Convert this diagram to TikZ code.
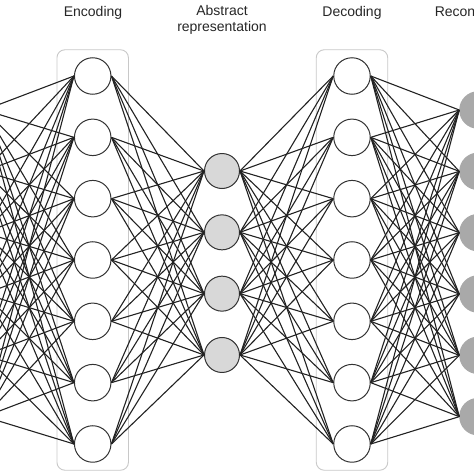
\documentclass[tikz,border=0pt]{standalone}
\usepackage{fontspec}
\setmainfont{Liberation Sans}
\usetikzlibrary{positioning, fit, backgrounds}

\definecolor{wirecol}{HTML}{222222}
\definecolor{rimcol}{HTML}{333333}
\definecolor{codegrey}{HTML}{D8D8D8}
\definecolor{outgrey}{HTML}{A9A9A9}
\definecolor{boxgrey}{HTML}{C8C8C8}
\definecolor{textcol}{HTML}{262626}

\begin{document}
\begin{tikzpicture}[x=1pt,y=-1pt,node distance=61.33pt,semithick]
\tikzstyle{neuron}=[circle,draw=rimcol,line width=1pt,inner sep=0pt,minimum size=36.5pt,fill=white]
\tikzstyle{codenode}=[neuron,fill=codegrey,minimum size=35pt]
\tikzstyle{outnode}=[neuron,fill=outgrey,draw=outgrey]
\tikzstyle{layerbox}=[draw=boxgrey,rounded corners=8pt,line width=0.9pt,inner xsep=17pt,inner ysep=7.5pt]
\tikzstyle{wire}=[draw=wirecol,line width=1.1pt]
\tikzstyle{title}=[inner sep=0pt,text=textcol]
\tikzset{font=\fontsize{14pt}{16pt}\selectfont}

\useasboundingbox (0,0) rectangle (474,474);

        % input side (outside the picture)
        \coordinate                     (in1) at (-15.5,110);
        \coordinate [below of=in1]      (in2);
        \coordinate [below of=in2]      (in3);
        \coordinate [below of=in3]      (in4);
        \coordinate [below of=in4]      (in5);
        \coordinate [below of=in5]      (in6);

        % encoding
        \node[neuron]                   (e1) at (92.7,76) {};
        \node[neuron]                   (e2) [below of=e1] {};
        \node[neuron]                   (e3) [below of=e2] {};
        \node[neuron]                   (e4) [below of=e3] {};
        \node[neuron]                   (e5) [below of=e4] {};
        \node[neuron]                   (e6) [below of=e5] {};
        \node[neuron]                   (e7) [below of=e6] {};

        % abstract representation
        \node[codenode]                 (c1) at (222,171) {};
        \node[codenode]                 (c2) [below of=c1] {};
        \node[codenode]                 (c3) [below of=c2] {};
        \node[codenode]                 (c4) [below of=c3] {};

        % decoding
        \node[neuron]                   (d1) at (352,76) {};
        \node[neuron]                   (d2) [below of=d1] {};
        \node[neuron]                   (d3) [below of=d2] {};
        \node[neuron]                   (d4) [below of=d3] {};
        \node[neuron]                   (d5) [below of=d4] {};
        \node[neuron]                   (d6) [below of=d5] {};
        \node[neuron]                   (d7) [below of=d6] {};

        % reconstruction
        \node[outnode]                  (r1) at (478,110) {};
        \node[outnode]                  (r2) [below of=r1] {};
        \node[outnode]                  (r3) [below of=r2] {};
        \node[outnode]                  (r4) [below of=r3] {};
        \node[outnode]                  (r5) [below of=r4] {};
        \node[outnode]                  (r6) [below of=r5] {};

        % titles
        \node[title,anchor=base]               (tenc) at (93,16)  {Encoding};
        \node[title,anchor=north,align=center] (tabs) at (222,5.5) {Abstract\\representation};
        \node[title,anchor=base]               (tdec) at (352,16) {Decoding};
        \node[title,anchor=base]               (trec) at (481.5,16) {Reconstruction};

        \begin{scope}[on background layer]
        \node[layerbox,fit=(e1)(e7)]    (encbox) {};
        \node[layerbox,fit=(d1)(d7)]    (decbox) {};
        \end{scope}

        % connections
        \foreach \i in {1,...,6}
          \foreach \j in {1,...,7}
            \path[wire] (in\i) edge (e\j.west);
        \foreach \i in {1,...,7}
          \foreach \j in {1,...,4}
            \path[wire] (e\i.east) edge (c\j.west);
        \foreach \i in {1,...,4}
          \foreach \j in {1,...,7}
            \path[wire] (c\i.east) edge (d\j.west);
        \foreach \i in {1,...,7}
          \foreach \j in {1,...,6}
            \path[wire] (d\i.east) edge (r\j.west);

\end{tikzpicture}
\end{document}
